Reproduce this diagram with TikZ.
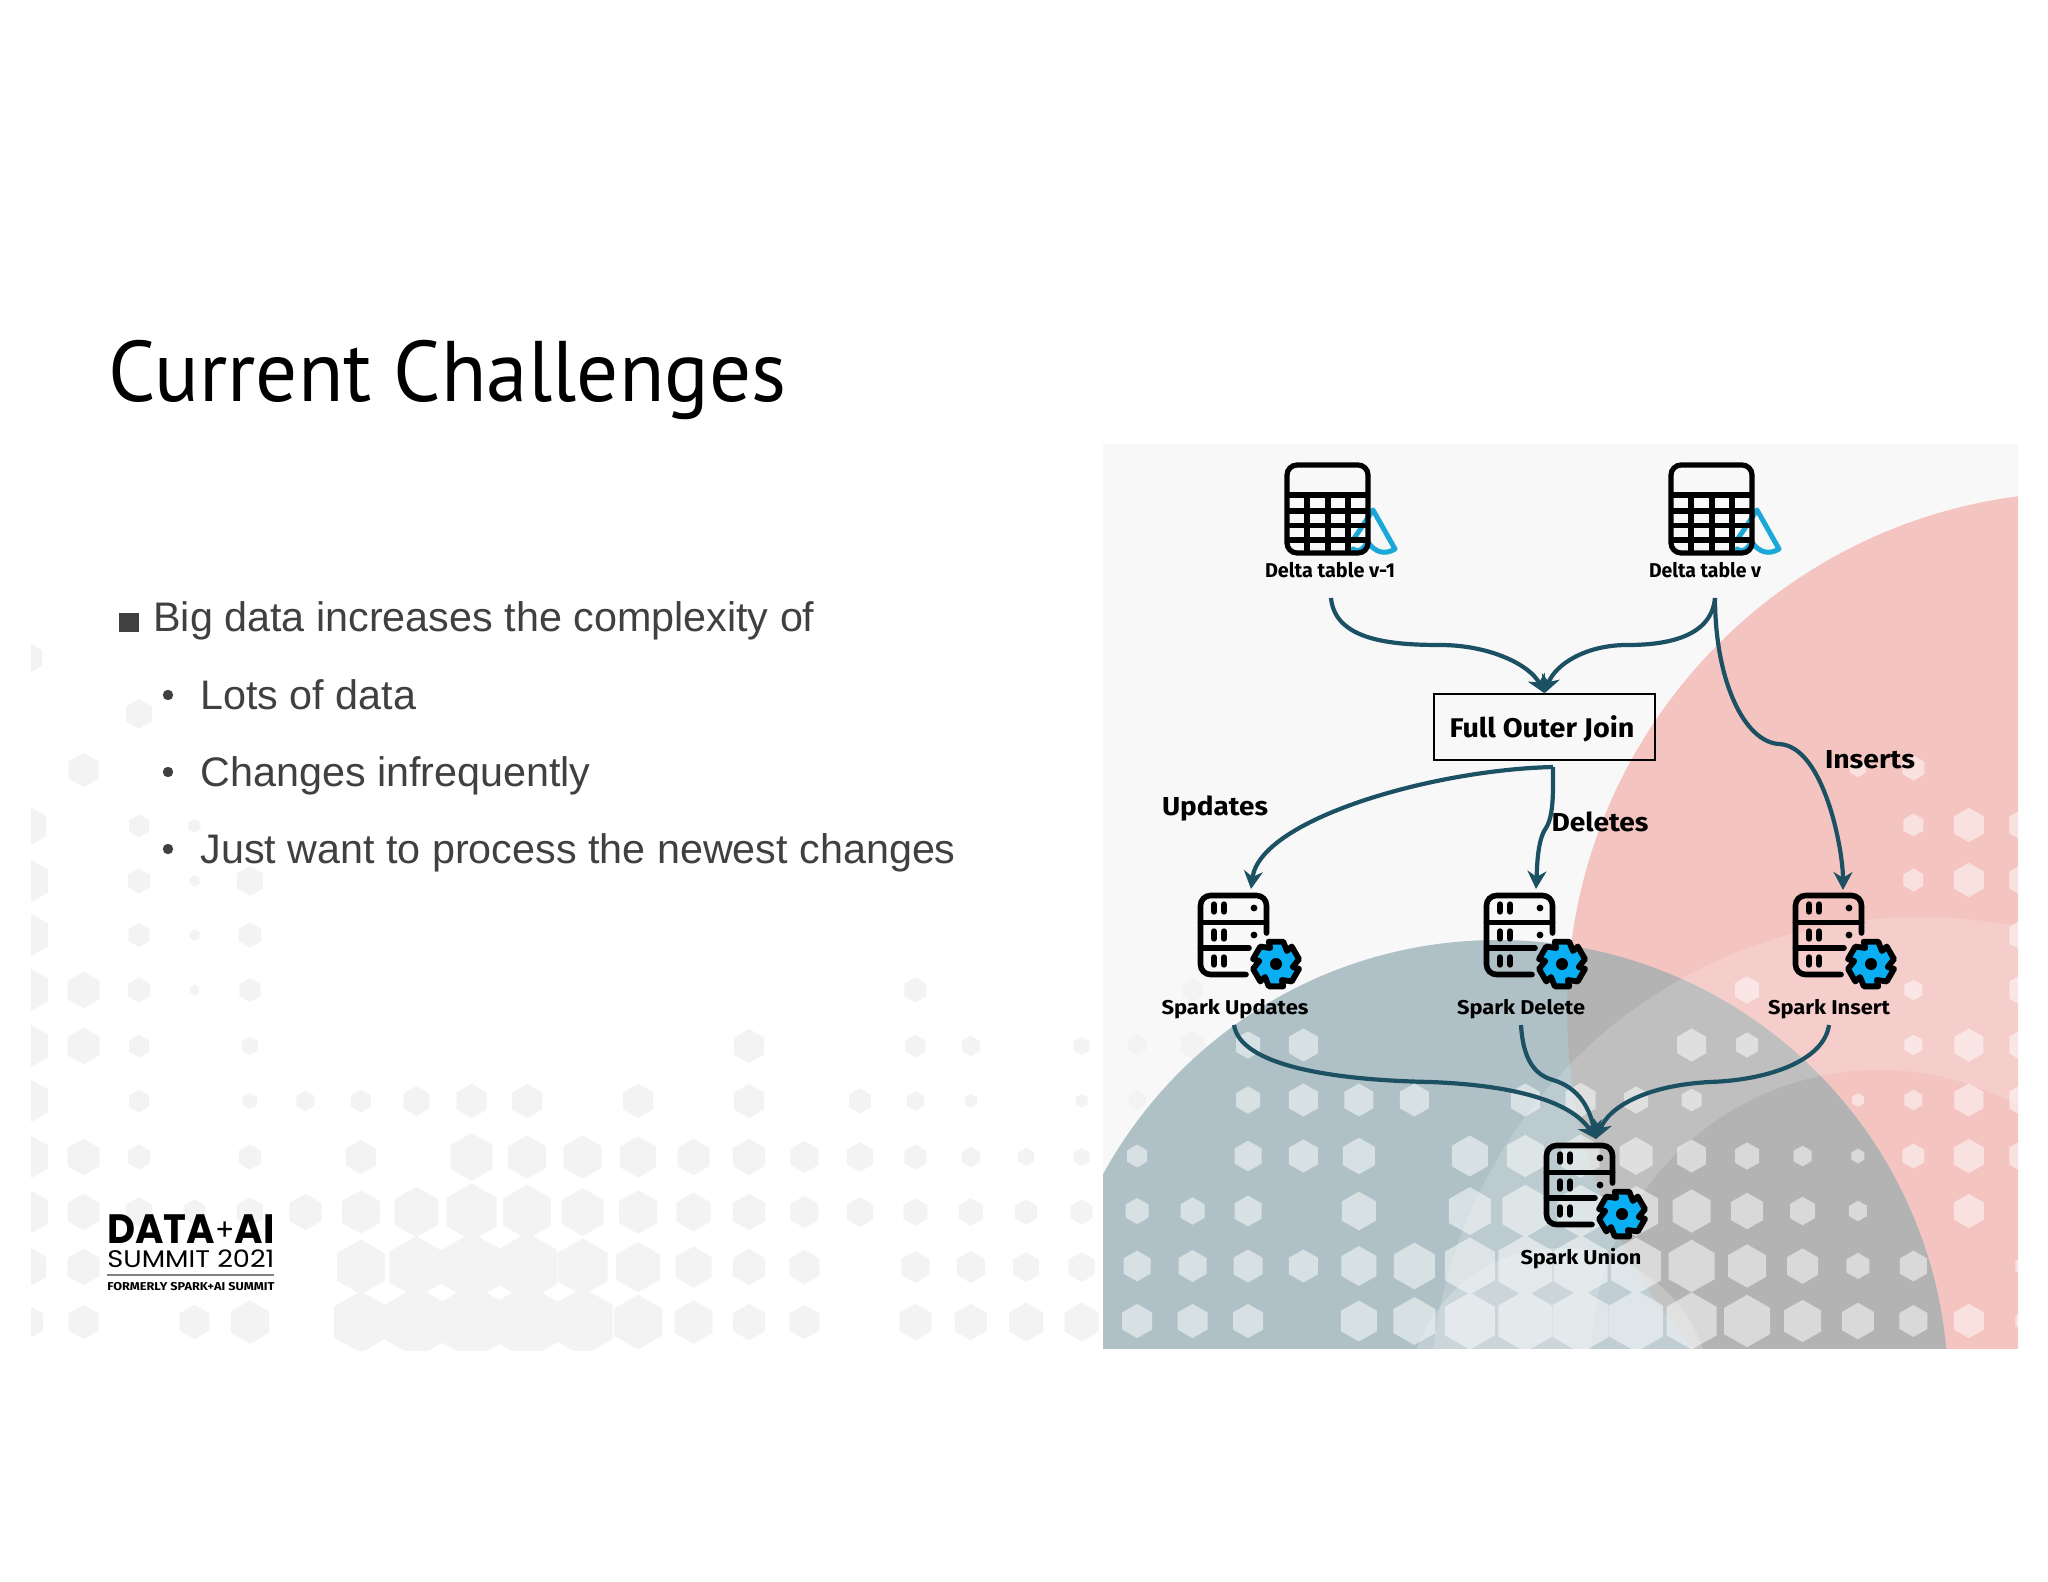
\documentclass[tikz,border=0pt]{standalone}
\usepackage{fontspec}
\usepackage{graphicx}
\usetikzlibrary{arrows.meta}
\setmainfont{Liberation Sans}
\newfontfamily\lblfont{Fira Sans}
\newfontfamily\ttlfont{PT Sans}
\newfontfamily\logofont{Poppins}
\newcommand\fitw[2]{\resizebox{#1}{\height}{#2}}
\definecolor{panelbg}{HTML}{F8F8F9}
\definecolor{palehex}{HTML}{F3F3F3}
\definecolor{pinkc}{HTML}{F4C4C1}
\definecolor{bluec}{HTML}{AFC1C7}
\definecolor{grayc}{HTML}{B3B3B3}
\definecolor{flow}{HTML}{1C5163}
\definecolor{gearblue}{HTML}{0AAEF2}
\definecolor{deltablue}{HTML}{1BA8D8}
\definecolor{bodytxt}{HTML}{404040}
\newcommand\hexrow[2]{\foreach \c/\w in {#2}{\fill[shift={({139+55.45*\c},#1)}] (0,{-.57*\w}) -- ({.5*\w},{-.285*\w}) -- ({.5*\w},{.285*\w}) -- (0,{.57*\w}) -- ({-.5*\w},{.285*\w}) -- ({-.5*\w},{-.285*\w}) -- cycle;}}
\tikzset{
  flowline/.style={draw=flow,line width=2.1pt,-{Stealth[length=9pt,width=9.5pt]}},
  lbl/.style={inner sep=0pt,anchor=base,text=black,font=\lblfont\bfseries\fontsize{10}{12}\selectfont},
  biglbl/.style={inner sep=0pt,anchor=base,text=black,font=\lblfont\bfseries\fontsize{13}{15}\selectfont},
  bodyline/.style={inner sep=0pt,anchor=base west,text=bodytxt,font=\fontsize{20.65}{24}\selectfont},
  tableicon/.pic={
    \draw[deltablue,line width=2.5pt,line join=round,line cap=round] (66,75) -- (86,45) -- (108,84) .. controls (98,90) and (88,88) .. (80,76) .. controls (78,84) and (72,88) .. (66,84);
    \draw[black,line width=2.6pt,rounded corners=5pt] (0,0) rectangle (81,88);
    \draw[black,line width=2.6pt] (0,30) -- (81,30) (0,46) -- (81,46) (0,60.5) -- (81,60.5) (0,75) -- (81,75)
      (20,30) -- (20,88) (41,30) -- (41,88) (61,30) -- (61,88);
  },
  servericon/.pic={
    \draw[black,line width=2.8pt,line cap=round,rounded corners=5pt] (68.5,40) -- (68.5,2.5) -- (2.5,2.5) -- (2.5,81.5) -- (48,81.5);
    \draw[black,line width=2.8pt,line cap=round] (2.5,29.5) -- (68.5,29.5) (2.5,55) -- (51,55);
    \foreach \yy in {15,42,68}{\draw[black,line width=3.2pt,line cap=round] (16,\yy-3.5) -- (16,\yy+3.5) (26,\yy-3.5) -- (26,\yy+3.5);}
    \fill[black] (56,15) circle[radius=1.7pt] (56,42) circle[radius=1.7pt];
    \begin{scope}[shift={(78,71)}]
      \draw[black,fill=gearblue,line width=2.9pt,line join=round]
        (72:23.5) -- (108:23.5) -- (130:17) -- (132:23.5) -- (168:23.5) -- (190:17) -- (192:23.5) -- (228:23.5) -- (250:17) -- (252:23.5) -- (288:23.5) -- (310:17) -- (312:23.5) -- (348:23.5) -- (10:17) -- (12:23.5) -- (48:23.5) -- (70:17) -- cycle;
      \fill[black] (0,0) circle[radius=3pt];
    \end{scope}
  },
}
\begin{document}
\begin{tikzpicture}[x=.5pt,y=-.5pt]
\useasboundingbox (0,0) rectangle (2048,1582);
\fill[white] (0,0) rectangle (2048,1582);
% left hexagon field
\begin{scope}
\clip (31,640) rectangle (1104,1350);
\begin{scope}[palehex,fill=palehex]
\hexrow{658}{-2/28}
\hexrow{714}{0/26}
\hexrow{770}{-1/30}
\hexrow{826}{-2/36,0/20,1/12}
\hexrow{881}{-2/40,0/22,1/10,2/26}
\hexrow{935}{-2/40,0/21,1/10,2/22}
\hexrow{990}{-2/40,-1/32,0/22,1/9,2/21,14/22}
\hexrow{1046}{-2/40,-1/32,0/20,2/16,11/30,14/20,15/18,17/16}
\hexrow{1101}{-2/40,0/20,2/14,3/18,4/20,5/26,6/30,7/30,9/30,11/30,13/22,14/17,15/12,17/12}
\hexrow{1157}{-2/40,-1/32,0/22,2/22,4/30,6/42,7/38,8/38,9/36,10/32,11/32,12/28,13/26,14/22,15/18,16/16,17/16}
\hexrow{1212}{-2/40,-1/32,0/26,1/22,2/26,3/32,4/38,5/44,6/50,7/48,8/42,9/38,10/34,11/32,12/28,13/26,14/24,15/24,16/22,17/22}
\hexrow{1267}{-2/36,-1/32,4/48,5/54,6/60,7/60,8/50,9/44,10/36,11/32,12/30,14/28,15/28,16/26,17/26}
\hexrow{1322}{-2/30,-1/30,1/30,2/38,4/54,5/62,6/66,7/66,8/60,9/48,10/38,11/32,12/30,14/32,15/32,16/34,17/34}
\end{scope}
\end{scope}
% right panel
\begin{scope}
\clip (1103,444) rectangle (2018,1348);
\fill[panelbg] (1103,444) rectangle (2018,1348);
\begin{scope}[fill=palehex]
\hexrow{1045}{18/18,19/24}
\hexrow{1100}{18/17}
\hexrow{990}{19/20}
\end{scope}
\fill[pinkc] (2085,1010) circle[radius=259pt];
\fill[bluec] (1498,1390) circle[radius=225pt];
\begin{scope}
\clip (2085,1010) circle[radius=259pt];
\fill[grayc] (1498,1390) circle[radius=225pt];
\end{scope}
\fill[white,fill opacity=.17,even odd rule] (1920,1407) circle[radius=245pt] (1879,1358) circle[radius=144pt];
\fill[white,fill opacity=.22] (1560,1400) circle[radius=76pt];
\begin{scope}
\clip (2085,1010) circle[radius=259pt] (1498,1390) circle[radius=225pt];
\begin{scope}[transparency group,opacity=.5]
\begin{scope}[fill=white]
\hexrow{768}{31/16,32/22}
\hexrow{825}{32/20,33/30,34/30}
\hexrow{880}{32/20,33/30,34/30}
\hexrow{935}{34/30}
\hexrow{990}{29/24,32/18,34/30}
\hexrow{1045}{20/24,21/29,28/29,29/22,32/18,33/29,34/30}
\hexrow{1100}{20/24,21/29,22/29,23/29,25/29,26/30,27/24,28/20,31/12,32/18,33/29,34/30}
\hexrow{1156}{18/20,20/27,21/29,22/32,24/36,25/37,26/38,27/33,28/29,29/24,30/18,31/13,32/22,33/30,34/30}
\hexrow{1211}{18/23,19/24,20/27,22/34,24/42,25/46,26/46,27/44,28/38,29/32,30/25,31/18,33/30}
\hexrow{1266}{18/27,19/28,20/29,21/29,22/35,23/41,24/50,25/54,26/54,27/50,28/46,29/38,30/31,31/23,32/27,34/18}
\hexrow{1321}{18/30,19/30,20/30,22/36,23/42,24/50,25/54,26/56,27/54,28/50,29/46,30/37,31/32,32/28,33/30,34/18}
\end{scope}
\end{scope}
\end{scope}
\end{scope}
% title and bullets
\node[inner sep=0pt,anchor=base west,text=black,font=\ttlfont\fontsize{43}{50}\selectfont] (title) at (108,402) {\fitw{339pt}{Current Challenges}};
\fill[bodytxt] (119,613) rectangle (139,632);
\node[bodyline] (b0) at (153,632) {Big data increases the complexity of};
\fill[bodytxt] (168,695) circle[radius=2.6pt] (168,772) circle[radius=2.6pt] (168,849) circle[radius=2.6pt];
\node[bodyline] (b1) at (200,709) {Lots of data};
\node[bodyline] (b2) at (200,786) {Changes infrequently};
\node[bodyline] (b3) at (200,863) {Just want to process the newest changes};
% logo
\node[inner sep=0pt,anchor=base west,text=black,font=\logofont\bfseries\fontsize{20.5}{24}\selectfont] (logoa) at (107,1243) {\fitw{83.5pt}{DATA{\mdseries\fontsize{15}{15}\selectfont\raisebox{1.5pt}{+}}AI}};
\node[inner sep=0pt,anchor=base west,text=black,font=\logofont\fontsize{12}{14}\selectfont] (logob) at (107,1267) {\fitw{83.5pt}{SUMMIT 2021}};
\draw[gray,line width=.6pt] (107,1275) -- (274,1275);
\node[inner sep=0pt,anchor=base west,text=black,font=\lblfont\bfseries\fontsize{5.7}{7}\selectfont] (logoc) at (107,1290) {\fitw{83.5pt}{FORMERLY SPARK+AI SUMMIT}};
% icons
\pic (tblA) at (1287,465) {tableicon};
\pic (tblB) at (1671,465) {tableicon};
\pic (srvU) at (1198,893) {servericon};
\pic (srvD) at (1484,893) {servericon};
\pic (srvI) at (1793,893) {servericon};
\pic (srvN) at (1544,1143) {servericon};
% labels
\node[lbl] (dv1) at (1330,578) {\fitw{65pt}{Delta table v-1}};
\node[lbl] (dv) at (1705,578) {\fitw{56pt}{Delta table v}};
\node[lbl] (su) at (1235,1014) {\fitw{73.5pt}{Spark Updates}};
\node[lbl] (sd) at (1521,1014) {\fitw{64pt}{Spark Delete}};
\node[lbl] (si) at (1829,1014) {\fitw{61pt}{Spark Insert}};
\node[lbl] (sn) at (1581,1264) {\fitw{60.5pt}{Spark Union}};
\node[draw=black,line width=.7pt,fill=none,minimum width=110.5pt,minimum height=33pt,inner sep=0pt] (join) at (1544.5,727) {};
\node[biglbl,font=\lblfont\bfseries\fontsize{13.5}{15}\selectfont] (joinlbl) at (1542,737) {\fitw{92.5pt}{Full Outer Join}};
\node[biglbl] (lu) at (1215,815) {\fitw{53pt}{Updates}};
\node[biglbl] (ld) at (1600,831) {\fitw{48.5pt}{Deletes}};
\node[biglbl] (li) at (1870,768) {\fitw{45pt}{Inserts}};
% connector ends
\coordinate (oA) at (1331,598);
\coordinate (oB) at (1715,598);
\coordinate (oJ) at (1553,767);
\coordinate (inU) at (1251,889);
\coordinate (inD) at (1536,889);
\coordinate (inI) at (1843,890);
\coordinate (inN) at (1596,1139);
\coordinate (oU) at (1234,1025);
\coordinate (oD) at (1521,1025);
\coordinate (oI) at (1829,1025);
% connectors
\draw[flowline] (oA) .. controls (1335,640) and (1390,645) .. (1440,645) .. controls (1490,645) and (1530,665) .. (join.north);
\draw[flowline] (oB) .. controls (1711,640) and (1660,645) .. (1627,645) .. controls (1585,645) and (1555,665) .. (join.north);
\draw[flowline] (oB) .. controls (1715,680) and (1744,742) .. (1779,744) .. controls (1824,746) and (1843,850) .. (inI);
\draw[flowline] (oJ) .. controls (1430,770) and (1260,820) .. (inU);
\draw[flowline] (oJ) .. controls (1553,790) and (1554,815) .. (1546,828) .. controls (1537,840) and (1537,870) .. (inD);
\draw[flowline] (oU) .. controls (1240,1065) and (1330,1080) .. (1430,1082) .. controls (1510,1085) and (1570,1100) .. (inN);
\draw[flowline] (oD) .. controls (1523,1060) and (1535,1075) .. (1553,1080) .. controls (1580,1088) and (1590,1110) .. (inN);
\draw[flowline] (oI) .. controls (1824,1060) and (1770,1080) .. (1710,1082) .. controls (1650,1085) and (1610,1105) .. (inN);
\end{tikzpicture}
\end{document}
